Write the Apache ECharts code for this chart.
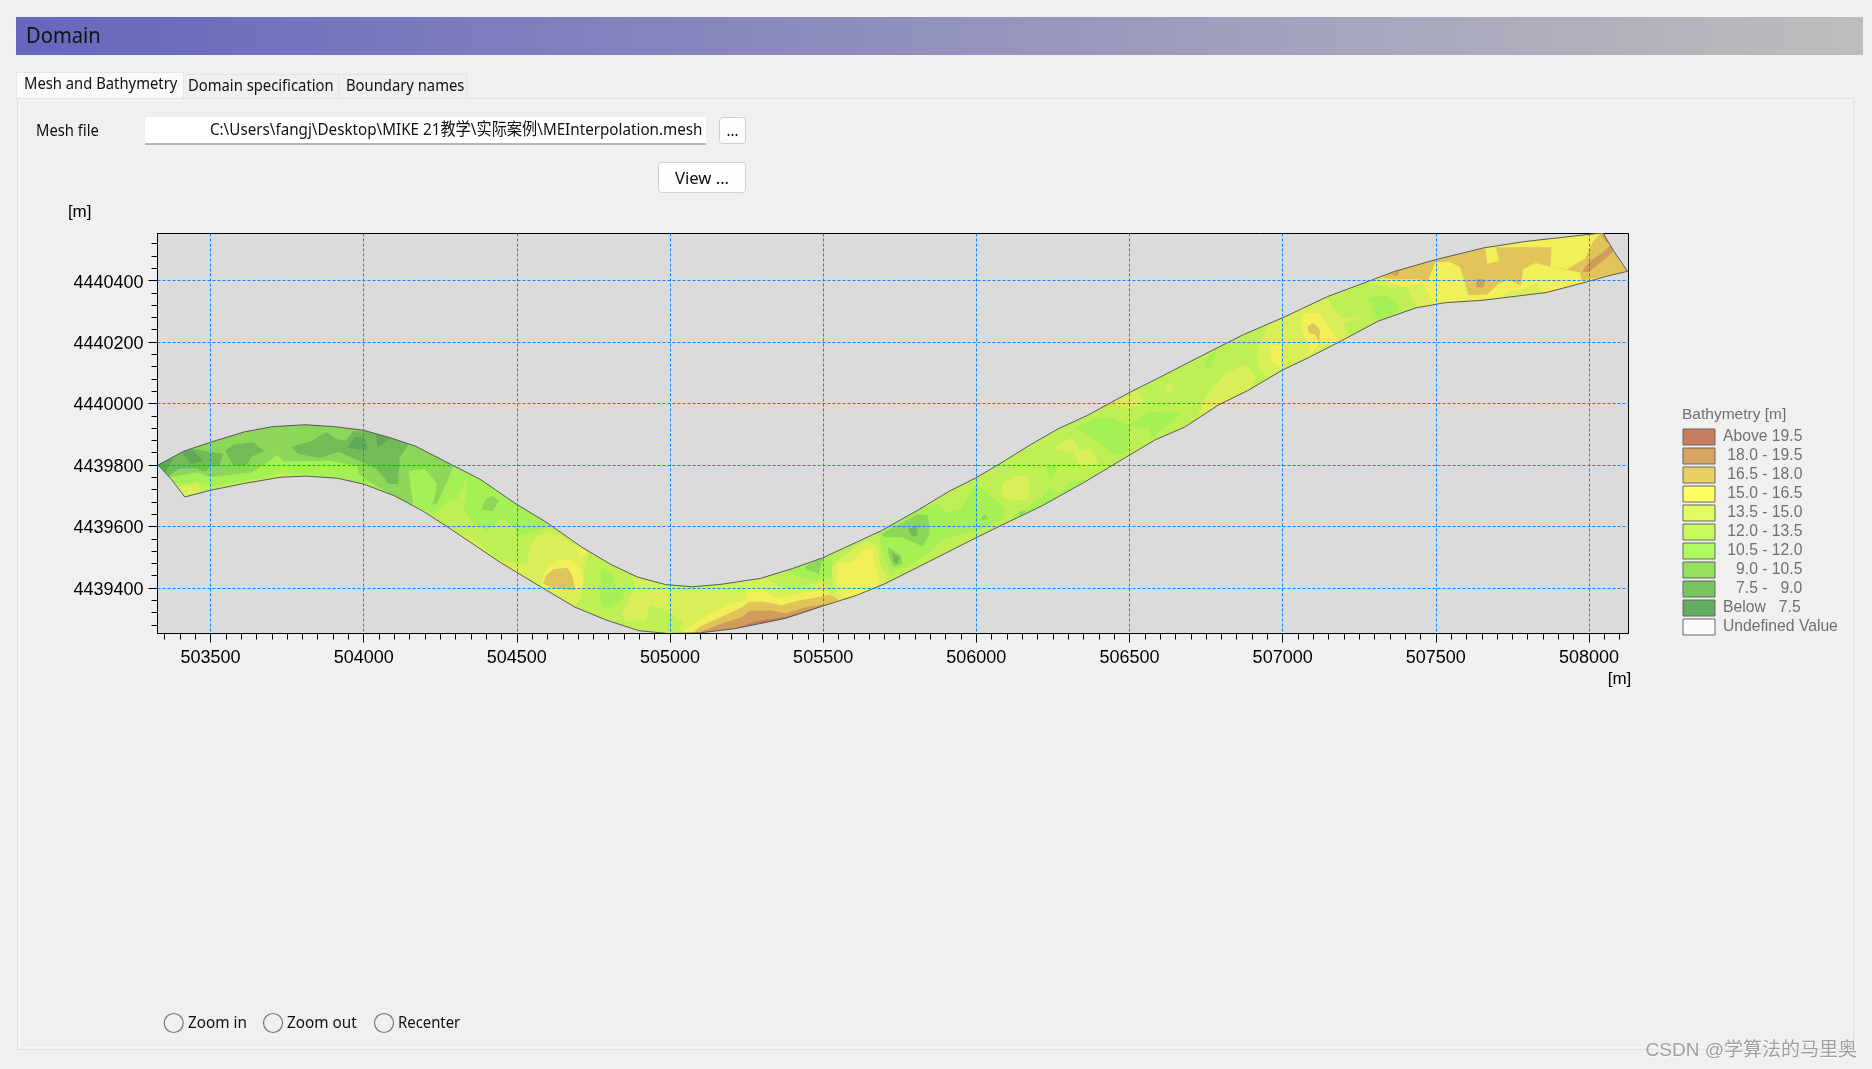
<!DOCTYPE html>
<html>
<head>
<meta charset="utf-8">
<title>Domain</title>
<script src="https://cdn.jsdelivr.net/npm/echarts@6/dist/echarts.min.js"></script>
<style>
  html, body { margin: 0; padding: 0; background: #f0f0f0; }
  #myMap { width: 1872px; height: 1069px; }
</style>
</head>
<body>
<div id="myMap"></div>
<script>
// axis extents of the plot, metres
const xRange = [503327, 508129]
const yRange = [4439252, 4440553]
const xTicks = [503500, 504000, 504500, 505000, 505500, 506000, 506500, 507000, 507500, 508000]
const yTicks = [4439400, 4439600, 4439800, 4440000, 4440200, 4440400]

// river banks, west to east
const bankUpper = [[503329,4439800],[503413,4439845],[503500,4439874],[503611,4439908],[503704,4439925],[503809,4439931],[503902,4439925],[504000,4439913],[504089,4439888],[504170,4439861],[504287,4439801],[504380,4439754],[504498,4439673],[504596,4439614],[504712,4439533],[504806,4439477],[504893,4439436],[504986,4439411],[505073,4439404],[505167,4439412],[505295,4439431],[505399,4439463],[505498,4439498],[505609,4439549],[505691,4439587],[505807,4439652],[505912,4439715],[505998,4439758],[506075,4439803],[506180,4439868],[506268,4439918],[506364,4439962],[506498,4440035],[506598,4440085],[506735,4440155],[506872,4440224],[507000,4440279],[507147,4440348],[507284,4440399],[507366,4440430],[507500,4440468],[507655,4440506],[507792,4440527],[507998,4440550],[508046,4440555],[508080,4440497],[508126,4440430]]
const bankLower = [[503329,4439800],[503372,4439754],[503416,4439696],[503500,4439718],[503611,4439740],[503727,4439760],[503809,4439764],[503914,4439757],[504000,4439738],[504100,4439700],[504194,4439650],[504287,4439590],[504357,4439543],[504445,4439484],[504561,4439414],[504689,4439338],[504794,4439295],[504899,4439261],[504992,4439252],[505097,4439254],[505213,4439268],[505376,4439301],[505498,4439341],[505609,4439376],[505702,4439414],[505842,4439484],[505998,4439563],[506076,4439601],[506214,4439667],[506351,4439743],[506488,4439825],[506584,4439882],[506680,4439923],[506790,4439995],[506886,4440042],[507000,4440109],[507092,4440153],[507188,4440202],[507312,4440268],[507435,4440311],[507531,4440328],[507655,4440336],[507861,4440361],[507998,4440397],[508053,4440413],[508126,4440430]]
const riverOutline = bankUpper.concat(bankLower.slice().reverse())

// bathymetry contour areas, one list per band (each area is clipped to the river)
const band12to135 = [riverOutline]
const band105to12 = [
  [[503308,4439814],[503383,4439738],[503459,4439743],[503506,4439732],[503669,4439757],[503727,4439774],[503821,4439768],[503902,4439757],[503984,4439743],[504100,4439700],[504159,4439672],[504229,4439639],[504275,4439683],[504305,4439689],[504322,4439727],[504340,4439765],[504328,4439650],[504357,4439612],[504404,4439585],[504450,4439628],[504491,4439596],[504497,4439568],[504555,4439585],[504608,4439601],[504625,4439617],[504404,4439781],[503996,4439956],[503587,4439956],[503308,4439836]],
  [[504776,4439463],[504811,4439446],[504817,4439414],[504852,4439392],[504846,4439365],[504806,4439338],[504776,4439338],[504771,4439382]],
  [[505679,4439582],[505807,4439657],[505877,4439673],[505900,4439646],[505947,4439657],[505999,4439738],[506040,4439706],[506096,4439657],[506081,4439630],[506110,4439630],[506046,4439609],[506005,4439587],[505947,4439576],[505889,4439555],[505842,4439511],[505772,4439468],[505720,4439452],[505696,4439511]],
  [[505376,4439457],[505504,4439501],[505533,4439503],[505528,4439436],[505469,4439423],[505411,4439438]],
  [[506225,4439798],[506268,4439798],[506244,4439749]],
  [[506117,4439634],[506214,4439694],[506241,4439723],[506268,4439699],[506303,4439743],[506358,4439754],[506358,4439738],[506200,4439650],[506117,4439617]],
  [[506323,4439923],[506385,4439951],[506440,4439956],[506495,4439929],[506516,4439945],[506564,4439973],[506666,4439969],[506605,4439913],[506568,4439885],[506564,4439921],[506502,4439921],[506495,4439842],[506450,4439831],[506399,4439874],[506358,4439902]],
  [[506742,4440142],[506787,4440177],[506758,4440104]],
  [[507277,4440344],[507339,4440355],[507387,4440306],[507312,4440264]]
]
const band9to105 = [
  [[503308,4439814],[503366,4439760],[503459,4439776],[503500,4439760],[503634,4439776],[503687,4439809],[503716,4439833],[503739,4439812],[503891,4439814],[503978,4439798],[503984,4439770],[504031,4439738],[504130,4439681],[504161,4439672],[504147,4439781],[504200,4439787],[504240,4439738],[504226,4439672],[504238,4439672],[504281,4439765],[504293,4439798],[504310,4439836],[504007,4439945],[503704,4439956],[503413,4439862]],
  [[504386,4439656],[504398,4439689],[504421,4439699],[504442,4439683],[504421,4439650]],
  [[505440,4439471],[505498,4439498],[505487,4439446],[505446,4439459]],
  [[505691,4439576],[505807,4439641],[505842,4439636],[505848,4439576],[505824,4439535],[505760,4439565],[505702,4439565]],
  [[505711,4439533],[505755,4439506],[505758,4439479],[505731,4439468],[505714,4439501]],
  [[506011,4439619],[506026,4439641],[506042,4439625]],
  [[506139,4439646],[506162,4439652],[506145,4439636]],
  [[506138,4439645],[506158,4439650],[506145,4439638]]
]
const band75to9 = [
  [[503308,4439814],[503360,4439762],[503395,4439787],[503448,4439790],[503483,4439779],[503500,4439795],[503529,4439798],[503541,4439836],[503477,4439847],[503413,4439858]],
  [[503547,4439847],[503576,4439867],[503640,4439874],[503675,4439845],[503634,4439827],[503617,4439800],[503576,4439798]],
  [[503762,4439858],[503832,4439880],[503879,4439907],[503908,4439885],[503943,4439880],[503966,4439910],[504031,4439910],[504100,4439885],[504147,4439867],[504118,4439825],[504112,4439738],[504083,4439738],[504042,4439787],[503984,4439814],[503920,4439842],[503856,4439823],[503786,4439836]],
  [[505778,4439592],[505807,4439603],[505809,4439571],[505790,4439568]],
  [[505723,4439517],[505749,4439501],[505743,4439479],[505731,4439484]]
]
const bandBelow75 = [
  [[503407,4439842],[503442,4439847],[503477,4439814],[503436,4439803]],
  [[503329,4439800],[503378,4439823],[503355,4439776]],
  [[503947,4439858],[503970,4439891],[504002,4439891],[504013,4439852],[503984,4439850]],
  [[504040,4439902],[504086,4439885],[504045,4439855]]
]
const band135to15 = [
  [[503393,4439727],[503459,4439743],[503470,4439700],[503416,4439696]],
  [[504287,4439590],[504357,4439560],[504440,4439490],[504532,4439477],[504509,4439400],[504400,4439480]],
  [[504532,4439477],[504544,4439538],[504567,4439571],[504596,4439582],[504642,4439571],[504683,4439544],[504707,4439538],[504736,4439511],[504722,4439479],[504718,4439425],[504710,4439371],[504683,4439333],[504561,4439409],[504509,4439444]],
  [[504875,4439441],[505003,4439419],[505167,4439425],[505295,4439441],[505364,4439403],[505411,4439398],[505469,4439414],[505498,4439425],[505533,4439371],[505562,4439355],[505498,4439317],[505260,4439252],[505050,4439241],[505033,4439268],[505044,4439290],[504992,4439328],[504934,4439346],[504922,4439297],[504858,4439290],[504840,4439317],[504864,4439355],[504885,4439403]],
  [[505528,4439468],[505562,4439501],[505644,4439555],[505679,4439533],[505685,4439479],[505714,4439425],[505609,4439338],[505557,4439349],[505533,4439382]],
  [[506083,4439738],[506130,4439765],[506172,4439760],[506172,4439689],[506117,4439683],[506083,4439694]],
  [[506248,4439852],[506310,4439889],[506337,4439847],[506371,4439852],[506399,4439803],[506337,4439798],[506316,4439842]],
  [[506436,4440002],[506502,4440035],[506529,4440042],[506546,4440000],[506495,4439984]],
  [[506618,4440055],[506632,4440066],[506642,4440038],[506618,4440038]],
  [[506721,4439951],[506749,4440027],[506817,4440098],[506879,4440129],[506914,4440085],[506886,4440038],[506797,4439995],[506715,4439940]],
  [[506968,4440284],[506944,4440240],[506916,4440175],[506920,4440120],[506955,4440082],[507010,4440098],[507188,4440191],[507215,4440224],[507199,4440260],[507268,4440282],[507191,4440278],[507158,4440319],[507147,4440355],[507092,4440339]],
  [[507270,4440393],[507353,4440377],[507401,4440377],[507442,4440311],[507861,4440317],[508162,4440415],[508162,4440568],[507449,4440492],[507312,4440437]]
]
const band15to165 = [
  [[504578,4439414],[504596,4439463],[504642,4439492],[504677,4439490],[504707,4439463],[504718,4439425],[504712,4439392],[504689,4439392],[504578,4439398]],
  [[504686,4439538],[504730,4439517],[504707,4439498]],
  [[505545,4439479],[505597,4439484],[505632,4439528],[505661,4439528],[505667,4439484],[505685,4439414],[505656,4439392],[505562,4439360],[505545,4439403]],
  [[505248,4439398],[505295,4439403],[505341,4439371],[505376,4439371],[505446,4439387],[505498,4439390],[505528,4439379],[505568,4439360],[505498,4439317],[505260,4439241],[505033,4439241],[505062,4439274],[505120,4439311],[505190,4439344],[505254,4439365]],
  [[506955,4440186],[506996,4440191],[507003,4440115],[506968,4440131]],
  [[507058,4440262],[507071,4440295],[507119,4440295],[507181,4440208],[507167,4440191],[507119,4440197],[507085,4440153],[507085,4440197],[507064,4440230]],
  [[507401,4440377],[507456,4440393],[507476,4440355],[507497,4440322],[507531,4440322],[507696,4440333],[507744,4440366],[507785,4440372],[507833,4440393],[507847,4440355],[507895,4440366],[507998,4440388],[508135,4440421],[508135,4440568],[507449,4440492],[507312,4440437],[507346,4440393]]
]
const band165to18 = [
  [[504585,4439414],[504596,4439441],[504619,4439461],[504666,4439466],[504683,4439436],[504691,4439392],[504619,4439398]],
  [[505073,4439252],[505097,4439274],[505167,4439306],[505236,4439338],[505260,4439355],[505306,4439355],[505364,4439344],[505423,4439360],[505458,4439365],[505522,4439379],[505551,4439363],[505498,4439317],[505260,4439241],[505062,4439241]],
  [[507082,4440251],[507099,4440262],[507122,4440240],[507119,4440197],[507108,4440224],[507085,4440230]],
  [[507325,4440410],[507360,4440404],[507435,4440404],[507476,4440399],[507497,4440459],[507545,4440461],[507579,4440443],[507607,4440352],[507668,4440355],[507703,4440388],[507737,4440404],[507778,4440382],[507785,4440437],[507826,4440457],[507874,4440445],[507878,4440508],[507696,4440508],[507707,4440464],[507668,4440454],[507662,4440505],[507655,4440516],[507500,4440479],[507373,4440443]],
  [[507874,4440445],[507929,4440437],[507987,4440472],[508012,4440525],[508039,4440555],[508135,4440432],[508039,4440413],[507977,4440399],[507970,4440426]]
]
const band18to195 = [
  [[504644,4439410],[504650,4439410],[504648,4439403]],
  [[505097,4439257],[505167,4439284],[505236,4439306],[505260,4439325],[505330,4439328],[505376,4439317],[505446,4439338],[505504,4439347],[505498,4439317],[505376,4439284],[505201,4439241],[505108,4439241]],
  [[507353,4440421],[507380,4440432],[507373,4440415]],
  [[507631,4440377],[507634,4440404],[507662,4440404],[507655,4440377]],
  [[507977,4440428],[507998,4440459],[508046,4440492],[508073,4440519],[508083,4440497],[508039,4440459],[507998,4440428]],
  [[508039,4440555],[508066,4440538],[508073,4440519],[508053,4440527]]
]
const bandAbove195 = [
  [[505190,4439261],[505283,4439293],[505376,4439306],[505458,4439330],[505498,4439344],[505498,4439317],[505376,4439284],[505201,4439241]]
]
const bandUndefined = []

const legendNames = ['Above 19.5', ' 18.0 - 19.5', ' 16.5 - 18.0', ' 15.0 - 16.5', ' 13.5 - 15.0', ' 12.0 - 13.5', ' 10.5 - 12.0', '   9.0 - 10.5', '   7.5 -   9.0', 'Below   7.5', 'Undefined Value']
const legendColors = ['#c97c60', '#d9a563', '#e7cf65', '#fdfd62', '#e3fa60', '#c7fa5b', '#aefa5f', '#95e061', '#77c55f', '#61ad61', '#fafafa']
const mapColors = ['#c47a5c', '#cf9c5c', '#e0c45a', '#f2f058', '#d9ee57', '#bef055', '#a5f055', '#8cd65a', '#72bc58', '#5ea858', '#fafafa']
const bandAreas = [bandAbove195, band18to195, band165to18, band15to165, band135to15, band12to135, band105to12, band9to105, band75to9, bandBelow75, bandUndefined]
// paint order: river first, then outward from the 12.0 - 13.5 band on both sides
const paintOrder = [5, 6, 7, 8, 9, 4, 3, 2, 1, 0, 10]

const myChart = echarts.init(document.getElementById('myMap'))

const toPoints = (api, list) => list.map(p => api.coord(p))

const areaSeries = paintOrder.map((b, i) => ({
    name: legendNames[b],
    type: 'custom',
    coordinateSystem: 'cartesian2d',
    clip: true,
    silent: true,
    z: 2 + i * 0.01,
    itemStyle: { color: legendColors[b] },
    data: bandAreas[b].map((_, k) => k),
    renderItem: (params, api) => ({
        type: 'polygon',
        shape: { points: toPoints(api, bandAreas[b][params.dataIndex]) },
        style: { fill: mapColors[b], stroke: null },
        clipPath: { type: 'polygon', shape: { points: toPoints(api, riverOutline) } }
    })
}))

const bankSeries = [bankUpper, bankLower].map(bank => ({
    type: 'line',
    data: bank,
    symbol: 'none',
    silent: true,
    z: 2.5,
    lineStyle: { color: '#5a5a5a', width: 1 }
}))

// widgets around the plot
const uiFont = '"Noto Sans", sans-serif'
const cjkFont = '"Noto Sans", "Noto Sans CJK SC", sans-serif'
const uiText = (text, x, y, o = {}) => ({
    type: 'text', x, y, silent: true, z: 20,
    scaleX: o.scaleX || 0.87,
    originX: 0,
    style: {
        text, fill: o.fill || '#111', font: (o.size || 17) + 'px ' + (o.font || uiFont),
        textAlign: o.align || 'left', textVerticalAlign: 'middle'
    }
})
const box = (x, y, w, h, fill, stroke, r, z) => ({
    type: 'rect', silent: true, z: z === undefined ? 10 : z,
    shape: { x, y, width: w, height: h, r: r || 0 },
    style: { fill, stroke: stroke || null, lineWidth: 1 }
})
const radio = (cx, cy) => ({
    type: 'circle', silent: true, z: 10,
    shape: { cx, cy, r: 9.5 },
    style: { fill: '#f0f0f0', stroke: '#777', lineWidth: 1.2 }
})

const widgets = [
    {
        type: 'rect', silent: true, z: 10,
        shape: { x: 16, y: 17, width: 1847, height: 38 },
        style: { fill: new echarts.graphic.LinearGradient(0, 0, 1, 0, [{ offset: 0, color: '#6666be' }, { offset: 1, color: '#bdbdbd' }]) }
    },
    uiText('Domain', 26, 37, { size: 21, scaleX: 0.96 }),
    box(17.5, 98.5, 1836, 951, '#f0f0f0', '#e2e2e2', 0, -2),
    box(19.5, 100.5, 1832, 947, '#f0f0f0', '#f8f8f8', 0, -1),
    box(16.5, 72.5, 167, 26, '#f9f9f9', '#e4e4e4'),
    box(183.5, 74.5, 155, 24, '#f0f0f0', '#e4e4e4'),
    box(338.5, 74.5, 128, 24, '#f0f0f0', '#e4e4e4'),
    uiText('Mesh and Bathymetry', 24, 84),
    uiText('Domain specification', 188, 86),
    uiText('Boundary names', 346, 86),
    uiText('Mesh file', 36, 131),
    box(145, 117, 561, 26, '#ffffff'),
    { type: 'line', silent: true, z: 11, shape: { x1: 145, y1: 144, x2: 706, y2: 144 }, style: { stroke: '#7a7a7a', lineWidth: 1 } },
    uiText('C:\\Users\\fangj\\Desktop\\MIKE 21教学\\实际案例\\MEInterpolation.mesh', 702.5, 130, { align: 'right', font: cjkFont, scaleX: 0.894 }),
    box(719.5, 117.5, 26, 26, '#fdfdfd', '#d0d0d0', 3),
    uiText('...', 732.5, 131, { align: 'center' }),
    box(658.5, 162.5, 87, 30, '#fdfdfd', '#d0d0d0', 3),
    uiText('View ...', 702, 179, { align: 'center', scaleX: 0.98 }),
    radio(173.7, 1023),
    radio(273, 1023),
    radio(384, 1023),
    uiText('Zoom in', 188, 1023, { scaleX: 0.9 }),
    uiText('Zoom out', 287, 1023, { scaleX: 0.9 }),
    uiText('Recenter', 398, 1023, { scaleX: 0.875 }),
    {
        type: 'text', x: 1857, y: 1050.5, silent: true, z: 21,
        style: {
            text: 'CSDN @学算法的马里奥', fill: '#a0a0a0', font: '19px "Liberation Sans", "Noto Sans CJK SC", sans-serif',
            textAlign: 'right', textVerticalAlign: 'middle', textShadowColor: '#ffffff', textShadowBlur: 1, textShadowOffsetY: 1
        }
    }
]

const axisLabelFont = { fontFamily: '"Liberation Sans", Arial, sans-serif', fontSize: 18, color: '#000' }
const gridDash = { show: true, lineStyle: { color: '#0a84ff', width: 1, type: [3, 2] } }

const option = {
    animation: false,
    backgroundColor: '#f0f0f0',
    title: {
        text: 'Bathymetry [m]', left: 1682, top: 407, padding: 0,
        textStyle: { fontFamily: '"Liberation Sans", Arial, sans-serif', fontSize: 15.5, fontWeight: 'normal', color: '#707070' }
    },
    legend: {
        orient: 'vertical', left: 1682.5, top: 428.5, padding: 0,
        itemWidth: 32, itemHeight: 16, itemGap: 2,
        icon: 'rect', selectedMode: false,
        data: legendNames,
        itemStyle: { borderColor: '#666', borderWidth: 1 },
        textStyle: { fontFamily: '"Liberation Sans", Arial, sans-serif', fontSize: 15.7, color: '#707070', padding: [0, 0, 0, 3] }
    },
    grid: {
        show: true, left: 157.5, top: 233.5, width: 1471, height: 400,
        backgroundColor: '#dbdbdb', borderColor: '#000', borderWidth: 1
    },
    xAxis: {
        type: 'value', z: 3,
        min: xRange[0], max: xRange[1],
        minInterval: 500, maxInterval: 500, splitNumber: 10,
        name: '[m]', nameLocation: 'end', nameGap: -9,
        nameTextStyle: { ...axisLabelFont, fontSize: 17, verticalAlign: 'top', align: 'center', padding: [37, 0, 0, 0] },
        axisLine: { onZero: false, lineStyle: { color: '#000' } },
        axisTick: { length: 9, customValues: xTicks, lineStyle: { color: '#000' } },
        minorTick: { show: true, splitNumber: 10, length: 6, lineStyle: { color: '#000' } },
        axisLabel: { ...axisLabelFont, margin: 16, customValues: xTicks, formatter: v => String(v) },
        splitLine: gridDash
    },
    yAxis: {
        type: 'value', z: 3,
        min: yRange[0], max: yRange[1],
        minInterval: 200, maxInterval: 200, splitNumber: 5,
        name: '[m]', nameLocation: 'end', nameGap: 13,
        nameTextStyle: { ...axisLabelFont, fontSize: 17, align: 'right', padding: [0, 66, 0, 0] },
        axisLine: { onZero: false, lineStyle: { color: '#000' } },
        axisTick: { length: 9, customValues: yTicks, lineStyle: { color: '#000' } },
        minorTick: { show: true, splitNumber: 5, length: 6, lineStyle: { color: '#000' } },
        axisLabel: {
            margin: 14, customValues: yTicks,
            formatter: v => '{a|' + v + '}',
            rich: { a: { ...axisLabelFont, padding: [4, 0, 0, 0] } }
        },
        splitLine: gridDash
    },
    graphic: { elements: widgets },
    series: areaSeries.concat(bankSeries)
}

myChart.setOption(option, true)
</script>
</body>
</html>
